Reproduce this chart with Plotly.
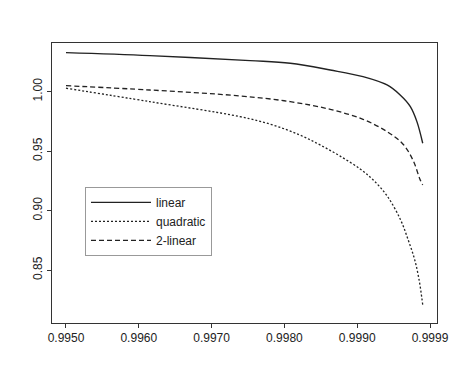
import plotly.graph_objects as go

# ---- data ----
x_linear = [0.99500, 0.99615, 0.99753, 0.99808, 0.99863, 0.99908,
            0.99941, 0.99959, 0.99973, 0.99982, 0.99990]
y_linear = [1.0328, 1.0303, 1.0261, 1.0239, 1.0182, 1.0126,
            1.0056, 0.9972, 0.9874, 0.9748, 0.9566]

x_quad = [0.99500, 0.99615, 0.99739, 0.99784, 0.99821, 0.99849, 0.99876,
          0.99904, 0.99922, 0.99941, 0.99959, 0.99970, 0.99979, 0.99985, 0.99990]
y_quad = [1.0029, 0.9916, 0.9790, 0.9720, 0.9636, 0.9552, 0.9460,
          0.9350, 0.9258, 0.9124, 0.8930, 0.8754, 0.8586, 0.8418, 0.8208]

x_2lin = [0.99500, 0.99615, 0.99739, 0.99808, 0.99863, 0.99908,
          0.99941, 0.99963, 0.99977, 0.99986, 0.99990]
y_2lin = [1.0050, 1.0014, 0.9964, 0.9916, 0.9851, 0.9767,
          0.9664, 0.9558, 0.9419, 0.9266, 0.9216]

series_names = ["linear", "quadratic", "2-linear"]

x_tickvals = [0.995, 0.996, 0.997, 0.998, 0.999, 1.000]
x_ticktext = ["0.9950", "0.9960", "0.9970", "0.9980", "0.9990", "0.9999"]
y_tickvals = [0.85, 0.90, 0.95, 1.00]
y_ticktext = ["0.85", "0.90", "0.95", "1.00"]

LINE = "#222222"
FONT = "Liberation Sans, Arial, sans-serif"

fig = go.Figure()
fig.add_trace(go.Scatter(x=x_linear, y=y_linear, mode="lines", name=series_names[0],
                         line=dict(color=LINE, width=1.4, dash="solid",
                                   shape="spline", smoothing=1.0)))
fig.add_trace(go.Scatter(x=x_quad, y=y_quad, mode="lines", name=series_names[1],
                         line=dict(color=LINE, width=1.3, dash="2px,2px",
                                   shape="spline", smoothing=1.0)))
fig.add_trace(go.Scatter(x=x_2lin, y=y_2lin, mode="lines", name=series_names[2],
                         line=dict(color=LINE, width=1.3, dash="5px,3px",
                                   shape="spline", smoothing=1.0)))

axis_common = dict(showline=True, mirror=True, linecolor="#333333", linewidth=1,
                   ticks="outside", ticklen=4, tickcolor="#333333", tickwidth=1,
                   showgrid=False, zeroline=False, automargin=False,
                   tickfont=dict(family=FONT, size=12, color="#222222"))

# the page body has an 8px default margin, so the figure is shrunk by 8px
fig.update_layout(
    width=466, height=358,
    margin=dict(l=44, r=37, t=35, b=43),
    paper_bgcolor="white", plot_bgcolor="white",
    font=dict(family=FONT, size=12, color="#222222"),
    xaxis=dict(range=[0.994808, 1.000096], tickmode="array",
               tickvals=x_tickvals, ticktext=x_ticktext, **axis_common),
    yaxis=dict(range=[0.8055, 1.0409], tickmode="array",
               tickvals=y_tickvals, ticktext=y_ticktext, tickangle=-90,
               **axis_common),
    legend=dict(x=0.0857, y=0.486, xanchor="left", yanchor="top",
                bordercolor="#999999", borderwidth=1, bgcolor="white",
                font=dict(family=FONT, size=12, color="#222222"),
                tracegroupgap=0, itemwidth=60, entrywidth=160,
                entrywidthmode="pixels"),
    showlegend=True,
)

fig.write_html("out.html")
